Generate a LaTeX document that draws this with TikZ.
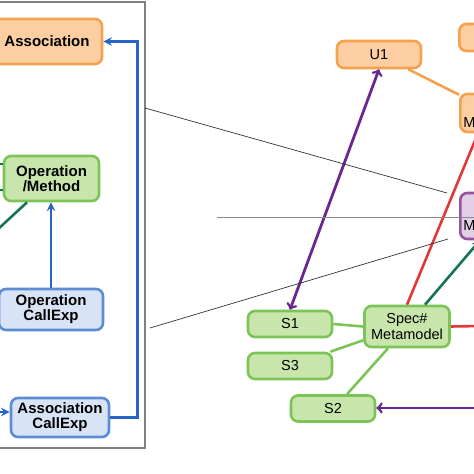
\documentclass[tikz,border=0pt]{standalone}
\usepackage{fontspec}
\setmainfont{Liberation Sans}
\usepackage{tikz}
\usetikzlibrary{shapes.geometric, arrows}
\definecolor{orangefill}{RGB}{252,206,162}
\definecolor{orangedraw}{RGB}{245,162,78}
\definecolor{greenfill}{RGB}{200,230,172}
\definecolor{greendraw}{RGB}{124,196,86}
\definecolor{bluefill}{RGB}{216,228,246}
\definecolor{bluedraw}{RGB}{92,140,212}
\definecolor{purplefill}{RGB}{226,206,230}
\definecolor{purpledraw}{RGB}{150,82,160}
\definecolor{arrowblue}{RGB}{40,100,200}
\definecolor{arrowpurple}{RGB}{105,40,145}
\definecolor{arrowteal}{RGB}{22,115,88}
\definecolor{arrowred}{RGB}{226,56,56}
\tikzstyle{boldtext} = [font=\fontsize{15}{15}\selectfont\bfseries, align=center, inner sep=0pt]
\tikzstyle{plaintext} = [font=\fontsize{14.5}{16.5}\selectfont, align=center, inner sep=0pt]
\tikzstyle{orangebold} = [rectangle, rounded corners=7pt, line width=2.6pt, draw=orangedraw, fill=orangefill, boldtext]
\tikzstyle{greenbold} = [rectangle, rounded corners=7pt, line width=2.6pt, draw=greendraw, fill=greenfill, boldtext]
\tikzstyle{bluebold} = [rectangle, rounded corners=7pt, line width=2.6pt, draw=bluedraw, fill=bluefill, boldtext]
\tikzstyle{orangebox} = [rectangle, rounded corners=7pt, line width=2.6pt, draw=orangedraw, fill=orangefill, plaintext]
\tikzstyle{greenbox} = [rectangle, rounded corners=7pt, line width=2.6pt, draw=greendraw, fill=greenfill, plaintext]
\tikzstyle{purplebox} = [rectangle, rounded corners=7pt, line width=2.6pt, draw=purpledraw, fill=purplefill, plaintext]
\tikzstyle{bluearrow} = [line width=2.8pt, draw=arrowblue, ->, >=stealth]
\tikzstyle{purplearrow} = [line width=2.8pt, draw=arrowpurple, >=to]
\tikzstyle{tealline} = [line width=2.6pt, draw=arrowteal]
\tikzstyle{tealarrow} = [line width=2.6pt, draw=arrowteal, ->, >=stealth]
\tikzstyle{redline} = [line width=2.6pt, draw=arrowred]
\tikzstyle{orangeline} = [line width=2.6pt, draw=orangedraw]
\tikzstyle{greenline} = [line width=2.6pt, draw=greendraw]
\tikzstyle{zoomline} = [line width=0.7pt, draw=black!80]
\tikzstyle{frame} = [line width=1.1pt, draw=black!50]
\begin{document}
\begin{tikzpicture}[x=1pt, y=-1pt]
\useasboundingbox (0,0) rectangle (474,474);
\clip (0,0) rectangle (474,474);
% left panel
\draw [frame] (-5,2) rectangle (145,448);
\node (assoc) [orangebold, minimum width=110pt, minimum height=45pt] at (47,41.5) {Association};
\node (opmethod) [greenbold, minimum width=95pt, minimum height=45pt] at (51.5,178.5) {Operation\\/Method};
\node (opcall) [bluebold, minimum width=104pt, minimum height=41pt] at (51,309.5) {Operation\\CallExp};
\node (assoccall) [bluebold, minimum width=98pt, minimum height=39pt] at (60,417.5) {Association\\CallExp};
\coordinate (opin1) at (-6,164);
\coordinate (opin2) at (-6,190);
\coordinate (opin3) at (-4,231);
\coordinate (acin) at (-6,412);

\draw [tealline] (opin1) -- (opin1 -| opmethod.west);
\draw [tealline] (opin2) -- (opin2 -| opmethod.west);
\draw [tealline] (opin3) -- ([xshift=-24.5pt]opmethod.south);
\draw [bluearrow] (opcall.north) -- (opcall.north |- opmethod.south);
\draw [bluearrow] (assoccall.east) -- ++(27,0) |- (assoc.east);
\draw [bluearrow] (acin) -- (acin -| assoccall.west);

% right panel
\node (u1) [orangebox, minimum width=84pt, minimum height=27pt] at (379,54.5) {U1};
\node (utop) [orangebox, minimum width=60pt, minimum height=27pt, anchor=west] at (458,37.5) {};
\node (umm) [orangebox, minimum height=38pt, anchor=west, text width=52pt, align=left, inner xsep=3pt] at (459,113) {\strut\\M};
\node (mm) [purplebox, minimum height=46pt, anchor=west, text width=52pt, align=left, inner xsep=3pt] at (459,216) {\strut\\M};
\node (s1) [greenbox, minimum width=84pt, minimum height=26pt] at (290,324) {S1};
\node (s3) [greenbox, minimum width=84pt, minimum height=26pt] at (290,366) {S3};
\node (s2) [greenbox, minimum width=84pt, minimum height=26pt] at (333,408.5) {S2};
\node (spec) [greenbox, minimum width=85pt, minimum height=41pt] at (407,326.5) {Spec\#\\Metamodel};
\coordinate (redout) at (480,326);
\coordinate (purpin) at (480,408);

\draw [orangeline] ([xshift=-14pt]u1.south east) -- ([yshift=-2pt]umm.north west);
\draw [purplearrow, <->] (u1.south) -- (s1.north);
\draw [greenline] (s1.east) -- (spec.west);
\draw [greenline] ([xshift=-3pt]s3.north east) -- ([yshift=8pt]spec.south west);
\draw [greenline] ([xshift=14pt]s2.north) -- ([xshift=-19pt]spec.south);
\draw [redline] (spec.north) -- ([xshift=19pt]umm.south west);
\draw [tealarrow] ([xshift=18pt]spec.north) -- ([xshift=21pt]mm.south west);
\draw [redline] (spec.east) -- (redout);
\draw [purplearrow, ->] (purpin) -- (purpin -| s2.east);

% zoom lines
\draw [zoomline] (145,108) -- (447,193);
\draw [zoomline, draw=black!45] (217,217) -- (480,217);
\draw [zoomline] (150,328) -- (448,239);
\end{tikzpicture}
\end{document}
